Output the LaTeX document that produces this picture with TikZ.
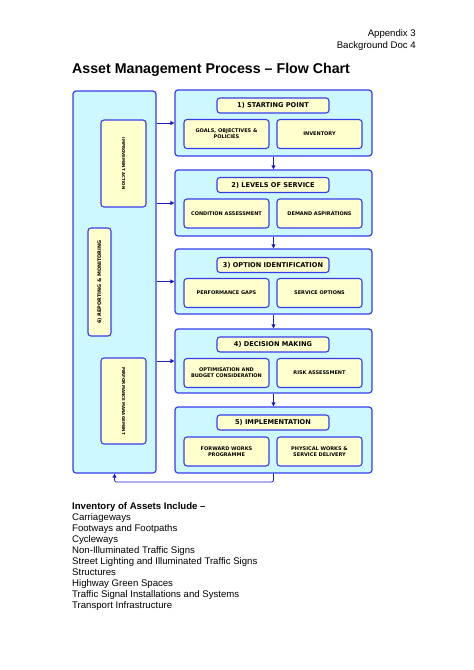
\documentclass[tikz,border=0pt]{standalone}
\usepackage{fontspec}
\setmainfont{Liberation Sans}
\newfontfamily\boxfont{DejaVu Sans}
\usetikzlibrary{arrows.meta}
\definecolor{bord}{RGB}{55,60,235}
\definecolor{cy}{RGB}{206,248,255}
\definecolor{yl}{RGB}{255,255,206}
\definecolor{ln}{RGB}{30,30,200}
\begin{document}
\begin{tikzpicture}[x=1pt,y=-1pt,
  outer/.style={draw=bord,line width=1.2pt,fill=cy,rounded corners=3pt,inner sep=0pt},
  ttl/.style={draw=bord,line width=1.1pt,fill=yl,rounded corners=3pt,minimum width=112pt,minimum height=15pt,inner sep=0pt,font=\boxfont\fontsize{6.6}{7.5}\selectfont\bfseries},
  sub/.style={draw=bord,line width=1.1pt,fill=yl,rounded corners=3pt,minimum width=85pt,minimum height=29pt,inner sep=0pt,align=center,font=\boxfont\fontsize{5}{6}\selectfont\bfseries},
  side/.style={draw=bord,line width=1.1pt,fill=yl,rounded corners=3pt,inner sep=0pt,font=\boxfont\fontsize{4.9}{5.8}\selectfont\bfseries},
  sidesmall/.style={side,font=\boxfont\fontsize{4}{5}\selectfont\bfseries},
  conn/.style={draw=ln,line width=0.8pt,-{Triangle[length=4pt,width=4pt]}},
  txt/.style={font=\fontsize{9.6}{11}\selectfont,inner sep=0pt,anchor=base west}]
\useasboundingbox (0,0) rectangle (474,670);
% header
\node[font=\fontsize{9.6}{11}\selectfont,inner sep=0pt,anchor=base east] (h1) at (416,36) {Appendix 3};
\node[font=\fontsize{9.6}{11}\selectfont,inner sep=0pt,anchor=base east] (h2) at (416,48) {Background Doc 4};
\node[font=\fontsize{14.2}{16}\selectfont\bfseries,inner sep=0pt,anchor=base west] (title) at (72,73) {Asset Management Process – Flow Chart};
% left column
\node[outer,minimum width=83pt,minimum height=382pt] (L) at (114.5,282) {};
\node[sidesmall,minimum width=45pt,minimum height=87pt] (LT) at (123.5,163.5) {\rotatebox{-90}{IMPROVEMENT ACTION}};
\node[side,minimum width=23pt,minimum height=108pt] (LM) at (99.5,282) {\rotatebox{90}{6) REPORTING \& MONITORING}};
\node[sidesmall,minimum width=45pt,minimum height=86pt] (LB) at (123.5,401) {\rotatebox{-90}{PERFORMANCE MANAGEMENT}};
% right boxes
\node[outer,minimum width=197pt,minimum height=66pt] (B1) at (273.5,123) {};
\node[outer,minimum width=197pt,minimum height=66pt] (B2) at (273.5,203) {};
\node[outer,minimum width=197pt,minimum height=65pt] (B3) at (273.5,281.5) {};
\node[outer,minimum width=197pt,minimum height=64pt] (B4) at (273.5,361) {};
\node[outer,minimum width=197pt,minimum height=66pt] (B5) at (273.5,440) {};
% titles
\node[ttl] (T1) at (273,105.5) {1) STARTING POINT};
\node[ttl] (T2) at (273,185) {2) LEVELS OF SERVICE};
\node[ttl] (T3) at (273,265) {3) OPTION IDENTIFICATION};
\node[ttl] (T4) at (273,344.5) {4) DECISION MAKING};
\node[ttl] (T5) at (273,422.5) {5) IMPLEMENTATION};
% sub boxes
\node[sub] (S1a) at (226.5,134) {GOALS, OBJECTIVES \&\\POLICIES};
\node[sub] (S1b) at (319.5,134) {INVENTORY};
\node[sub] (S2a) at (226.5,213.5) {CONDITION ASSESSMENT};
\node[sub] (S2b) at (319.5,213.5) {DEMAND ASPIRATIONS};
\node[sub] (S3a) at (226.5,293) {PERFORMANCE GAPS};
\node[sub] (S3b) at (319.5,293) {SERVICE OPTIONS};
\node[sub] (S4a) at (226.5,373) {OPTIMISATION AND\\BUDGET CONSIDERATION};
\node[sub] (S4b) at (319.5,373) {RISK ASSESSMENT};
\node[sub] (S5a) at (226.5,451.5) {FORWARD WORKS\\PROGRAMME};
\node[sub] (S5b) at (319.5,451.5) {PHYSICAL WORKS \&\\SERVICE DELIVERY};
% connectors
\draw[conn] (B1.south) -- (B2.north);
\draw[conn] (B2.south) -- (B3.north);
\draw[conn] (B3.south) -- (B4.north);
\draw[conn] (B4.south) -- (B5.north);
\draw[conn] (L.east |- B1.west) -- (B1.west);
\draw[conn] (L.east |- B2.west) -- (B2.west);
\draw[conn] (L.east |- B3.west) -- (B3.west);
\draw[conn] (L.east |- B4.west) -- (B4.west);
\coordinate (c1) at (114.5,482);
\draw[conn,rounded corners=2pt] (B5.south) |- (c1) -- (L.south);
% list
\node[txt,font=\fontsize{9.6}{11}\selectfont\bfseries] (i0) at (72,509) {Inventory of Assets Include –};
\node[txt] (i1) at (72,520) {Carriageways};
\node[txt] (i2) at (72,531) {Footways and Footpaths};
\node[txt] (i3) at (72,542) {Cycleways};
\node[txt] (i4) at (72,553) {Non-Illuminated Traffic Signs};
\node[txt] (i5) at (72,564) {Street Lighting and Illuminated Traffic Signs};
\node[txt] (i6) at (72,575) {Structures};
\node[txt] (i7) at (72,586) {Highway Green Spaces};
\node[txt] (i8) at (72,597) {Traffic Signal Installations and Systems};
\node[txt] (i9) at (72,608) {Transport Infrastructure};
\end{tikzpicture}
\end{document}
